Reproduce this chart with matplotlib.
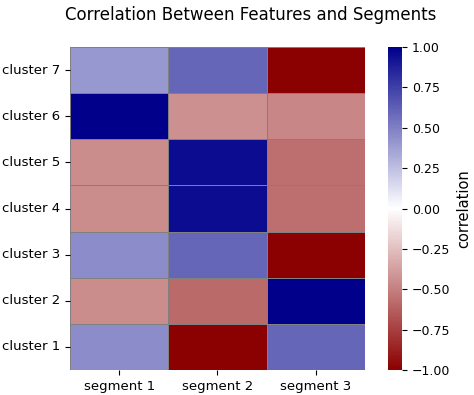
import matplotlib
matplotlib.use("Agg")
import matplotlib.pyplot as plt
from matplotlib.colors import LinearSegmentedColormap
import numpy as np
import pandas as pd
import seaborn as sns

# Rótulos e valores.
clusters = ["cluster 7", "cluster 6", "cluster 5", "cluster 4",
            "cluster 3", "cluster 2", "cluster 1"]
segments = ["segment 1", "segment 2", "segment 3"]

seg1 = [0.40, 1.00, -0.45, -0.45, 0.45, -0.45, 0.45]
seg2 = [0.60, -0.43, 0.95, 0.95, 0.60, -0.58, -1.00]
seg3 = [-1.00, -0.47, -0.57, -0.57, -1.00, 1.00, 0.60]
cbar_ticks = [-1.0, -0.75, -0.5, -0.25, 0.0, 0.25, 0.5, 0.75, 1.0]

corr = pd.DataFrame({"segment 1": seg1, "segment 2": seg2,
                     "segment 3": seg3}, index=clusters)

cmap = LinearSegmentedColormap.from_list("rwb", ["darkred", "white", "darkblue"])

fig = plt.figure(figsize=(4.74, 3.95), dpi=100)
ax = fig.add_axes([70 / 474, 25 / 395, 295 / 474, 323 / 395])
cax = fig.add_axes([388 / 474, 25 / 395, 14 / 474, 323 / 395])

sns.heatmap(corr, ax=ax, cbar_ax=cax, cmap=cmap, vmin=-1, vmax=1,
            linewidths=0.5, linecolor="gray",
            cbar_kws={"label": "correlation", "ticks": cbar_ticks})

ax.tick_params(labelsize=9.5)
ax.set_yticklabels(clusters, rotation=0)
ax.set_xticklabels(segments, rotation=0)

cax.tick_params(labelsize=9)
cax.set_yticklabels([f"{t:.2f}".replace("-", "\u2212") for t in cbar_ticks])
cax.yaxis.label.set_size(10.5)

fig.suptitle("Correlation Between Features and Segments", x=0.528, y=0.985, fontsize=12)

fig.savefig("out.png", dpi=100)
